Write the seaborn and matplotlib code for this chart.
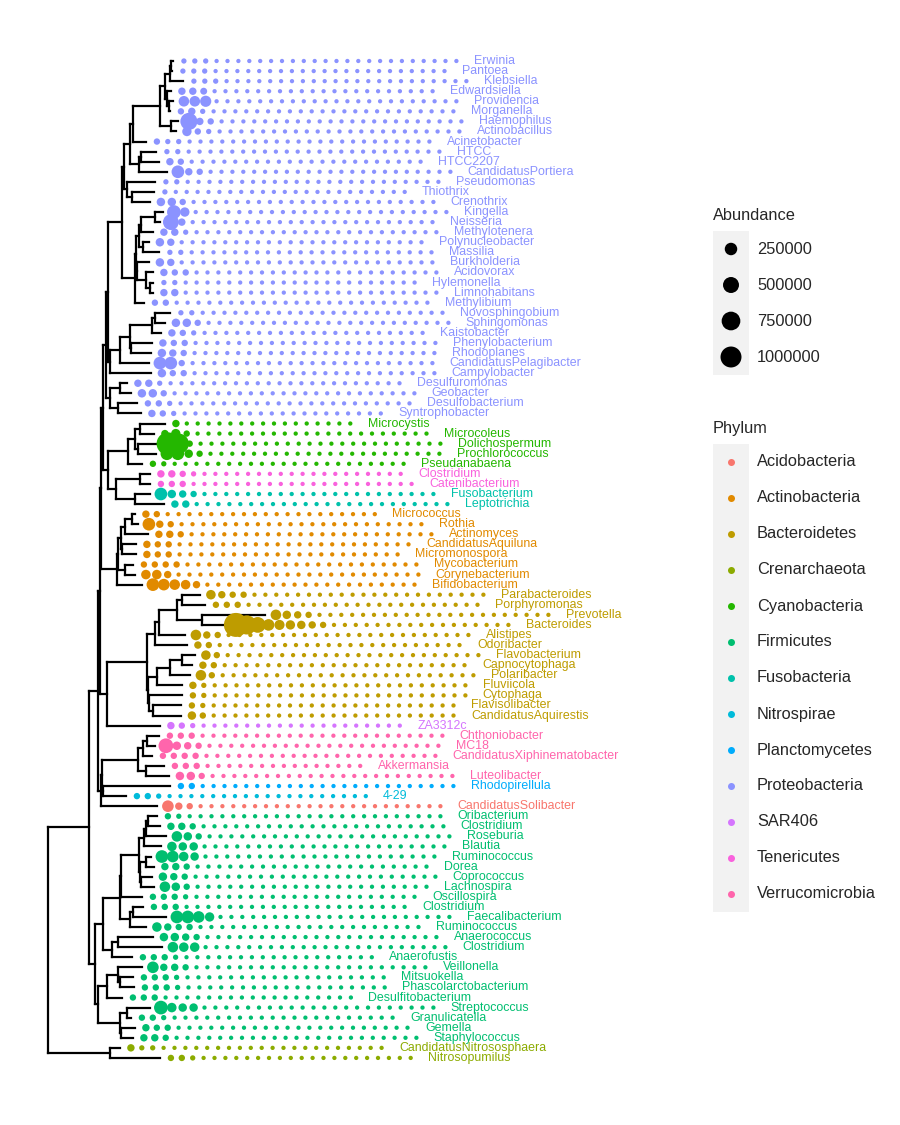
import numpy as np
import pandas as pd
import matplotlib
matplotlib.use("Agg")
import matplotlib.pyplot as plt
from matplotlib.collections import LineCollection
from matplotlib.patches import Rectangle
import seaborn as sns

# ── Data ─────────────────────────────────────────────────────
genus = [
    "Erwinia", "Pantoea", "Klebsiella", "Edwardsiella", "Providencia", "Morganella",
    "Haemophilus", "Actinobacillus", "Acinetobacter", "HTCC", "HTCC2207",
    "CandidatusPortiera", "Pseudomonas", "Thiothrix", "Crenothrix", "Kingella",
    "Neisseria", "Methylotenera", "Polynucleobacter", "Massilia", "Burkholderia",
    "Acidovorax", "Hylemonella", "Limnohabitans", "Methylibium", "Novosphingobium",
    "Sphingomonas", "Kaistobacter", "Phenylobacterium", "Rhodoplanes",
    "CandidatusPelagibacter", "Campylobacter", "Desulfuromonas", "Geobacter",
    "Desulfobacterium", "Syntrophobacter", "Microcystis", "Microcoleus",
    "Dolichospermum", "Prochlorococcus", "Pseudanabaena", "Clostridium",
    "Catenibacterium", "Fusobacterium", "Leptotrichia", "Micrococcus", "Rothia",
    "Actinomyces", "CandidatusAquiluna", "Micromonospora", "Mycobacterium",
    "Corynebacterium", "Bifidobacterium", "Parabacteroides", "Porphyromonas",
    "Prevotella", "Bacteroides", "Alistipes", "Odoribacter", "Flavobacterium",
    "Capnocytophaga", "Polaribacter", "Fluviicola", "Cytophaga", "Flavisolibacter",
    "CandidatusAquirestis", "ZA3312c", "Chthoniobacter", "MC18",
    "CandidatusXiphinematobacter", "Akkermansia", "Luteolibacter", "Rhodopirellula",
    "4-29", "CandidatusSolibacter", "Oribacterium", "Clostridium", "Roseburia",
    "Blautia", "Ruminococcus", "Dorea", "Coprococcus", "Lachnospira", "Oscillospira",
    "Clostridium", "Faecalibacterium", "Ruminococcus", "Anaerococcus", "Clostridium",
    "Anaerofustis", "Veillonella", "Mitsuokella", "Phascolarctobacterium",
    "Desulfitobacterium", "Streptococcus", "Granulicatella", "Gemella",
    "Staphylococcus", "CandidatusNitrososphaera", "Nitrosopumilus",
]

tip_phylum = (["Proteobacteria"] * 36 + ["Cyanobacteria"] * 5 + ["Tenericutes"] * 2
              + ["Fusobacteria"] * 2 + ["Actinobacteria"] * 8 + ["Bacteroidetes"] * 13
              + ["SAR406"] + ["Verrucomicrobia"] * 5 + ["Planctomycetes"]
              + ["Nitrospirae"] + ["Acidobacteria"] + ["Firmicutes"] * 23
              + ["Crenarchaeota"] * 2)

# depth of each tip from the root (tree units)
tip_depth = [125, 124, 135, 123, 125, 122, 130, 128, 98, 108, 111, 119, 107, 106, 102,
             115, 112, 105, 101, 111, 101, 105, 105, 105, 96, 122, 117, 113, 104, 103,
             101, 103, 79, 83, 89, 93, 117, 106, 109, 108, 94, 102, 102, 102, 116,
             87, 90, 100, 88, 88, 85, 87, 94, 152, 157, 217, 177, 137, 139, 147,
             144, 142, 134, 134, 133, 133, 112, 111, 107, 104, 116, 121, 122, 78,
             109, 109, 112, 118, 113, 103, 106, 104, 106, 94, 95, 118, 98, 105, 114,
             84, 94, 85, 86, 74, 102, 83, 87, 85, 72, 112]

# internal nodes: clade = tips first..last, with its depth from the root
node_first = [0, 0, 4, 3, 0, 6, 0, 0, 9, 9, 0, 13, 12, 0, 15, 15, 18, 15, 22, 21, 20,
              15, 15, 0, 25, 25, 28, 25, 25, 25, 0, 32, 34, 32, 0, 36, 38, 36, 36, 41,
              43, 41, 36, 0, 45, 45, 48, 45, 50, 45, 45, 0, 53, 55, 53, 53, 53, 59, 59,
              59, 64, 63, 59, 53, 53, 0, 67, 67, 70, 67, 72, 67, 67, 0, 75, 75, 75, 79,
              81, 79, 75, 75, 84, 84, 75, 87, 87, 75, 91, 90, 90, 94, 96, 94, 90, 75,
              0, 98, 0]
node_last = [1, 2, 5, 5, 5, 7, 7, 8, 10, 11, 11, 14, 14, 14, 16, 17, 19, 19, 23, 23, 23,
             23, 24, 24, 26, 27, 29, 29, 30, 31, 31, 33, 35, 35, 35, 37, 39, 39, 40, 42,
             44, 44, 44, 44, 46, 47, 49, 49, 51, 51, 52, 52, 54, 56, 56, 57, 58, 60, 61,
             62, 65, 65, 65, 65, 66, 66, 68, 69, 71, 71, 73, 73, 74, 74, 76, 77, 78, 80,
             82, 82, 82, 83, 85, 86, 86, 88, 89, 89, 92, 92, 93, 95, 97, 97, 97, 97,
             97, 99, 99]
node_depth = [123, 122, 121, 119, 117, 123, 112, 85, 93, 91, 82, 84, 79, 76, 107, 93, 95,
              91, 102, 98, 89, 88, 87, 74, 107, 104, 83, 82, 72, 62, 60, 72, 70, 62, 58,
              92, 90, 87, 80, 92, 87, 68, 60, 55, 84, 77, 74, 73, 77, 70, 69, 53, 134,
              154, 129, 111, 107, 134, 122, 109, 105, 101, 100, 99, 59, 52, 99, 95, 98,
              90, 54.5, 54, 53, 50, 100, 98, 96, 98, 93, 92, 91, 73, 85, 82, 72, 70, 64,
              55, 72, 70, 59, 79, 73, 72, 50, 47, 41, 62, 0]

# number of samples with non-zero abundance for each tip
n_samples = [26, 25, 26, 24, 26, 26, 26, 26, 26, 26, 24, 26, 26, 23, 26, 26, 25, 26, 25,
             25, 26, 26, 24, 26, 26, 25, 26, 24, 26, 26, 26, 26, 25, 26, 25, 22, 17, 25,
             26, 26, 24, 23, 24, 26, 26, 22, 26, 26, 25, 24, 26, 26, 25, 26, 25, 26, 26,
             26, 25, 26, 25, 26, 26, 26, 25, 25, 22, 26, 26, 26, 18, 26, 26, 22, 26, 26,
             26, 26, 26, 26, 25, 26, 25, 25, 24, 26, 25, 26, 26, 22, 26, 23, 23, 21, 26,
             24, 25, 26, 24, 23]

# abundance of the leading samples of each tip; remaining samples hold TRACE reads
lead_abund = [
    [6000, 6000, 6000], [6000, 6000, 6000], [6000, 6000, 6000], [41000, 41000, 30000],
    [151000, 151000, 180000], [20000, 41000, 6000], [600000, 41000, 20000],
    [100000, 20000, 6000], [20000, 6000, 6000], [6000, 6000], [41000, 20000],
    [262000, 41000, 20000], [6000, 6000], [6000], [70000, 70000, 20000],
    [329000, 100000], [485000, 41000], [41000, 41000, 6000], [70000, 41000],
    [6000, 6000], [70000, 41000], [41000, 20000, 20000], [6000, 6000], [41000, 41000],
    [20000, 20000], [6000, 6000], [70000, 70000, 20000], [41000, 20000, 6000],
    [41000, 20000, 20000], [70000, 41000, 20000], [262000, 262000, 20000],
    [70000, 20000, 20000], [41000, 41000, 6000], [70000, 70000, 20000],
    [20000, 20000, 6000], [41000, 20000, 6000],
    [41000], [41000, 100000, 20000], [1200000, 900000, 20000],
    [262000, 262000, 70000, 20000], [20000, 6000],
    [41000, 41000, 20000, 6000], [20000, 20000, 20000],
    [262000, 70000, 41000, 20000], [41000, 41000],
    [41000, 20000], [262000, 41000, 20000], [41000, 41000, 20000], [41000, 20000, 20000],
    [41000, 20000, 20000], [20000, 20000, 20000, 20000], [107000, 107000, 41000],
    [262000, 202000, 151000, 107000, 41000],
    [107000, 41000, 20000, 20000], [20000, 20000, 20000], [151000, 70000, 41000, 20000],
    [1390000, 800000, 480000, 200000, 130000, 100000, 70000, 41000, 20000],
    [151000, 41000, 20000], [41000, 20000], [107000, 20000], [41000, 20000],
    [151000, 20000], [41000, 6000], [20000, 6000], [20000, 6000], [70000, 20000],
    [41000, 20000, 6000],
    [20000, 20000, 20000], [403000, 70000, 41000, 20000], [20000, 20000, 20000, 20000],
    [20000, 20000, 20000], [70000, 70000, 20000],
    [20000, 20000], [20000, 20000, 6000], [202000, 41000, 20000],
    [20000, 6000], [41000, 41000, 20000], [151000, 70000, 20000], [107000, 70000, 70000],
    [262000, 202000, 107000, 70000], [41000, 41000, 20000], [70000, 41000, 20000],
    [151000, 70000, 20000], [20000, 20000, 20000, 6000], [20000, 20000, 20000],
    [262000, 262000, 202000, 100000], [107000, 41000, 20000, 20000],
    [70000, 70000, 41000, 20000], [151000, 107000, 107000], [20000, 20000, 20000, 6000],
    [202000, 41000, 41000, 20000], [20000, 20000, 20000, 6000],
    [20000, 20000, 20000, 6000], [20000, 20000, 20000], [329000, 107000, 70000, 70000],
    [20000, 20000, 6000], [41000, 20000, 20000], [41000, 41000, 20000],
    [41000, 6000, 6000], [20000, 20000, 6000],
]
TRACE = 300

phyla = ["Acidobacteria", "Actinobacteria", "Bacteroidetes", "Crenarchaeota",
         "Cyanobacteria", "Firmicutes", "Fusobacteria", "Nitrospirae",
         "Planctomycetes", "Proteobacteria", "SAR406", "Tenericutes", "Verrucomicrobia"]
phylum_colors = ["#F8766D", "#E18A00", "#BE9C00", "#8CAB00", "#24B700", "#00BE70",
                 "#00C1AB", "#00BBDA", "#00ACFC", "#8B93FF", "#D575FE", "#F962DD",
                 "#FF65AC"]
legend_abund = [250000, 500000, 750000, 1000000]

# ── Style ────────────────────────────────────────────────────
sns.set_style("white")
plt.rcParams["font.family"] = ["Liberation Sans", "DejaVu Sans"]

PX_PER_ROW = 10.07
SPACING = 10.9          # horizontal dodge between samples (tree units)
DPI = 100
K_PX = 4.0              # smallest point diameter in pixels
palette = dict(zip(phyla, phylum_colors))


def point_area(v, vmax):
    # ggplot-like area scale: size range 1..6 on sqrt(abundance)
    d_px = K_PX * (1 + 5 * np.sqrt(np.asarray(v, dtype=float) / vmax))
    return (d_px * 72.0 / DPI) ** 2


# ── Tree layout ──────────────────────────────────────────────
n_tips = len(genus)
y_of = {(i, i): float(i) for i in range(n_tips)}
x_of = {(i, i): tip_depth[i] for i in range(n_tips)}
segments = []
nodes = sorted(zip(node_first, node_last, node_depth), key=lambda t: t[1] - t[0])
for first, last, depth in nodes:
    kids, i = [], first
    while i <= last:
        best = max((k for k in y_of if k[0] == i and k[1] <= last), key=lambda k: k[1])
        kids.append(best)
        i = best[1] + 1
    ys = [y_of[k] for k in kids]
    y_of[(first, last)] = float(np.mean(ys))
    x_of[(first, last)] = depth
    segments.append([(depth, min(ys)), (depth, max(ys))])
    for k in kids:
        segments.append([(depth, y_of[k]), (x_of[k], y_of[k])])

# ── Sample points ────────────────────────────────────────────
recs = []
for i in range(n_tips):
    vals = lead_abund[i] + [TRACE] * (n_samples[i] - len(lead_abund[i]))
    for j, v in enumerate(vals, start=1):
        recs.append({"row": i, "x": tip_depth[i] + j * SPACING,
                     "Abundance": v, "Phylum": tip_phylum[i]})
df = pd.DataFrame(recs)
vmax = df["Abundance"].max()
df["area"] = point_area(df["Abundance"], vmax)

# ── Figure ───────────────────────────────────────────────────
fig = plt.figure(figsize=(900 / DPI, 1125 / DPI), dpi=DPI)
ax = fig.add_axes([0, 0, 1, 1])
ax.set_xlim(-48, 852)
ax.set_ylim((1125 - 61) / PX_PER_ROW, -61 / PX_PER_ROW)
ax.axis("off")

ax.add_collection(LineCollection(segments, colors="black", linewidths=1.6,
                                 capstyle="projecting", zorder=1))

amin, amax = df["area"].min(), df["area"].max()
sns.scatterplot(data=df, x="x", y="row", hue="Phylum", palette=palette,
                size="area", sizes=(amin, amax), size_norm=(amin, amax),
                linewidth=0, legend=False, ax=ax, zorder=2)

last_x = df.groupby("row")["x"].max()
for i in range(n_tips):
    ax.text(last_x[i] + 1.6 * SPACING, i, genus[i], color=palette[tip_phylum[i]],
            fontsize=8.9, ha="left", va="center")

# ── Legends (pixel layout) ───────────────────────────────────
lg = fig.add_axes([0, 0, 1, 1], facecolor="none")
lg.set_xlim(0, 900)
lg.set_ylim(1125, 0)
lg.axis("off")

LEG_FS = 11.8
lg.text(713, 215, "Abundance", fontsize=LEG_FS, ha="left", va="center")
lg.add_patch(Rectangle((713, 231), 36, 36 * len(legend_abund), color="#F2F2F2", lw=0))
key_y = [249 + 36 * i for i in range(len(legend_abund))]
lg.scatter([731] * len(legend_abund), key_y, s=point_area(legend_abund, vmax),
           color="black", linewidths=0)
for y, v in zip(key_y, legend_abund):
    lg.text(757, y, str(v), fontsize=LEG_FS, ha="left", va="center")

lg.text(713, 428, "Phylum", fontsize=LEG_FS, ha="left", va="center")
lg.add_patch(Rectangle((713, 444), 36, 36 * len(phyla), color="#F2F2F2", lw=0))
for i, (p, c) in enumerate(zip(phyla, phylum_colors)):
    y = 462 + 36 * i
    lg.scatter([731], [y], s=(7 * 72.0 / DPI) ** 2, color=c, linewidths=0)
    lg.text(757, y, p, fontsize=LEG_FS, ha="left", va="center")

fig.savefig("out.png", dpi=DPI)
